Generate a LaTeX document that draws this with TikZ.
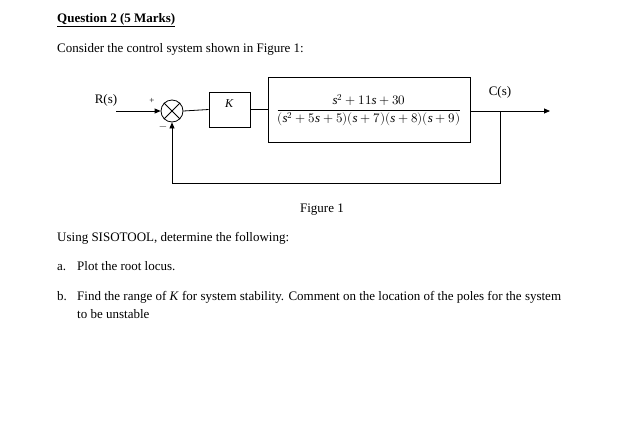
\documentclass[tikz,border=0pt]{standalone}
\usepackage{fontspec}
\setmainfont{Liberation Serif}
\usepackage{amsmath}
\usepackage{unicode-math}
\setmathfont{Latin Modern Math}
\setmathfont[range=it]{Liberation Serif Italic}
\usetikzlibrary{arrows.meta}
\begin{document}
\begin{tikzpicture}[x=1pt,y=-1pt,
  txt/.style={anchor=base west,inner sep=0pt,font=\fontsize{13}{15}\selectfont},
  blk/.style={draw,line width=0.8pt,inner sep=0pt},
  wire/.style={line width=0.8pt},
  arr/.style={wire,-{Triangle[length=6pt,width=5pt]}}]
\useasboundingbox (0,0) rectangle (640,445);
\node[txt] (q) at (57,22) {\textbf{\underline{Question 2 (5 Marks)}}};
\node[txt] (c) at (57,52) {Consider the control system shown in Figure 1:};
\node[txt,anchor=base] (r) at (106,103) {R(s)};
\node[txt,anchor=base] (co) at (500,95) {C(s)};
\coordinate (in) at (116,111);
\node[draw,circle,line width=0.8pt,minimum size=22pt,inner sep=0pt] (sum) at (172,111) {};
\draw[line width=0.8pt] (sum.north west)--(sum.south east) (sum.north east)--(sum.south west);
\node[font=\fontsize{9}{9}\selectfont,inner sep=0pt] (plus) at (152,101) {+};
\node[font=\fontsize{10}{10}\selectfont,inner sep=0pt] (minus) at (163,128) {$-$};
\node[blk,minimum width=41pt,minimum height=35pt] (k) at (229.5,109.5) {};
\node[inner sep=0pt,font=\fontsize{12}{12}\selectfont] (kl) at (229.5,104) {\textit{K}};
\node[blk,minimum width=202pt,minimum height=65pt] (g) at (369,109.5) {};
\node[inner sep=0pt,font=\fontsize{13}{15}\selectfont] (gl) at (369,110) {$\dfrac{s^2+11s+30}{(s^2+5s+5)(s+7)(s+8)(s+9)}$};
\coordinate (out) at (550,111);
\coordinate (tap) at (500,111);
\coordinate (b1) at (500,183);
\coordinate (b2) at (172,183);
\draw[arr] (in) -- (sum.west);
\draw[wire] (sum.east) -- (k.west);
\draw[wire] (k.east) -- (k.east -| g.west);
\draw[arr] (g.east |- out) -- (out);
\draw[arr] (tap) -- (b1) -- (b2) -- (sum.south);
\node[txt,anchor=base] (f) at (322,212) {Figure 1};
\node[txt] (u) at (57,241) {Using SISOTOOL, determine the following:};
\node[txt] (a) at (57,270) {a.};
\node[txt] (a2) at (77,270) {Plot the root locus.};
\node[txt] (b) at (57,300) {b.};
\node[txt] (b2t) at (77,300) {Find the range of \textit{K} for system stability. Comment on the location of the poles for the system};
\node[txt] (b3) at (77,318) {to be unstable};
\end{tikzpicture}
\end{document}
